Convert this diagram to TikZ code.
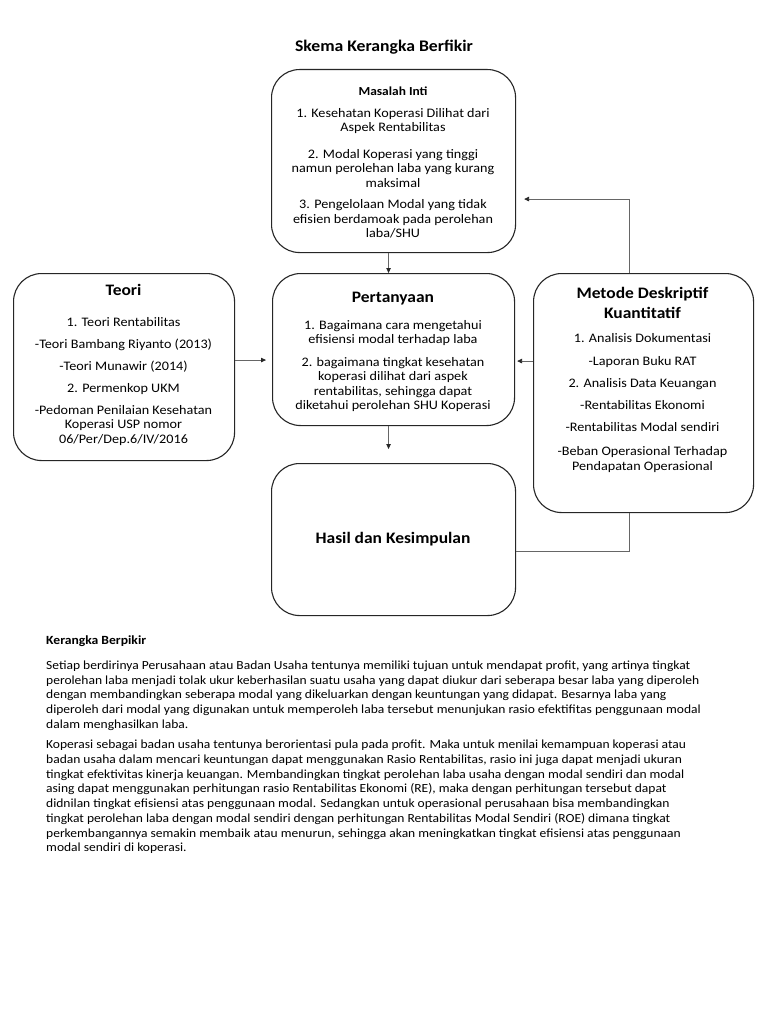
\documentclass[tikz,border=0pt]{standalone}
\usepackage{fontspec}
\setmainfont[FakeStretch=1.09]{Carlito}
\usetikzlibrary{arrows.meta}
\tikzset{
  box/.style={draw=black!85, line width=1.1pt, rounded corners=28pt, inner sep=0pt, anchor=north west},
  body/.style={inner sep=0pt, align=center, anchor=north, font=\fontsize{13}{14.5}\selectfont},
  conn/.style={draw=black!60, line width=0.8pt},
  arr/.style={conn, -{Triangle[length=5pt,width=4.5pt,black!85]}},
  para/.style={inner sep=0pt, align=left, anchor=north west, font=\fontsize{12.4}{14.7}\selectfont}
}
\newcommand{\hd}[1]{{\bfseries\fontsize{16}{17}\selectfont #1}}
\begin{document}
\begin{tikzpicture}[x=1pt,y=-1pt]
\useasboundingbox (0,0) rectangle (768,1024);
\fill[white] (0,0) rectangle (768,1024);

\node[inner sep=0pt, font=\bfseries\fontsize{16.2}{18}\selectfont] (title) at (384,47) {Skema Kerangka Berfikir};

% boxes
\node[box, minimum width=244pt, minimum height=183pt] (masalah) at (271,69) {};
\node[box, minimum width=221pt, minimum height=187pt] (teori) at (13,273) {};
\node[box, minimum width=242pt, minimum height=152pt] (pert) at (272,273) {};
\node[box, minimum width=220pt, minimum height=239pt] (metode) at (533,273) {};
\node[box, minimum width=244pt, minimum height=152pt] (hasil) at (271,463) {};

% texts
\node[body] (tmasalah) at (393,87) {{\bfseries\fontsize{12.3}{13}\selectfont Masalah Inti}\\[7pt]
1. Kesehatan Koperasi Dilihat dari\\ Aspek Rentabilitas\\[12pt]
2. Modal Koperasi yang tinggi\\ namun perolehan laba yang kurang\\ maksimal\\[7pt]
3. Pengelolaan Modal yang tidak\\ efisien berdamoak pada perolehan\\ laba/SHU};

\node[body] (tteori) at (123.5,284.5) {\hd{Teori}\\[16pt]
1. Teori Rentabilitas\\[7.5pt]
-Teori Bambang Riyanto (2013)\\[7.5pt]
-Teori Munawir (2014)\\[7.5pt]
2. Permenkop UKM\\[7.5pt]
-Pedoman Penilaian Kesehatan\\ Koperasi USP nomor\\ 06/Per/Dep.6/IV/2016};

\node[body] (tpert) at (393,292) {\hd{Pertanyaan}\\[12pt]
1. Bagaimana cara mengetahui\\ efisiensi modal terhadap laba\\[8pt]
2. bagaimana tingkat kesehatan\\ koperasi dilihat dari aspek\\ rentabilitas, sehingga dapat\\ diketahui perolehan SHU Koperasi};

\node[body] (tmetode) at (642.5,287) {\hd{Metode Deskriptif}\\[5.5pt]
\hd{Kuantitatif}\\[10pt]
1. Analisis Dokumentasi\\[8pt]
-Laporan Buku RAT\\[8pt]
2. Analisis Data Keuangan\\[7.5pt]
-Rentabilitas Ekonomi\\[7.5pt]
-Rentabilitas Modal sendiri\\[9.5pt]
-Beban Operasional Terhadap\\ Pendapatan Operasional};

\node[inner sep=0pt, font=\bfseries\fontsize{16}{17}\selectfont] (thasil) at (393,539) {Hasil dan Kesimpulan};

% connectors
\draw[arr] ([xshift=-5pt]masalah.south) -- ([xshift=-5pt]masalah.south |- pert.north);
\draw[arr, shorten >=14pt] ([xshift=-5pt]pert.south) -- ([xshift=-5pt]pert.south |- hasil.north);
\draw[arr, shorten >=6pt] ([yshift=7pt]teori.east) -- ([yshift=7pt]teori.east -| pert.west);
\draw[arr, shorten >=2pt] ([yshift=32pt]metode.west) -- ([yshift=32pt]metode.west -| pert.east);
\draw[arr, shorten >=8pt] ([xshift=-14pt]metode.north) |- ([yshift=-38pt]masalah.east);
\draw[conn] ([yshift=-12pt]hasil.east) -| ([xshift=-14pt]metode.south);

% paragraph
\node[para, font=\bfseries\fontsize{12.5}{14.6}\selectfont] (khead) at (46,636) {Kerangka Berpikir};
\node[para] (p1) at (46,660.5) {Setiap berdirinya Perusahaan atau Badan Usaha tentunya memiliki tujuan untuk mendapat profit, yang artinya tingkat\\
perolehan laba menjadi tolak ukur keberhasilan suatu usaha yang dapat diukur dari seberapa besar laba yang diperoleh\\
dengan membandingkan seberapa modal yang dikeluarkan dengan keuntungan yang didapat. Besarnya laba yang\\
diperoleh dari modal yang digunakan untuk memperoleh laba tersebut menunjukan rasio efektifitas penggunaan modal\\
dalam menghasilkan laba.};
\node[para] (p2) at (46,740) {Koperasi sebagai badan usaha tentunya berorientasi pula pada profit. Maka untuk menilai kemampuan koperasi atau\\
badan usaha dalam mencari keuntungan dapat menggunakan Rasio Rentabilitas, rasio ini juga dapat menjadi ukuran\\
tingkat efektivitas kinerja keuangan. Membandingkan tingkat perolehan laba usaha dengan modal sendiri dan modal\\
asing dapat menggunakan perhitungan rasio Rentabilitas Ekonomi (RE), maka dengan perhitungan tersebut dapat\\
didnilan tingkat efisiensi atas penggunaan modal. Sedangkan untuk operasional perusahaan bisa membandingkan\\
tingkat perolehan laba dengan modal sendiri dengan perhitungan Rentabilitas Modal Sendiri (ROE) dimana tingkat\\
perkembangannya semakin membaik atau menurun, sehingga akan meningkatkan tingkat efisiensi atas penggunaan\\
modal sendiri di koperasi.};
\end{tikzpicture}
\end{document}
